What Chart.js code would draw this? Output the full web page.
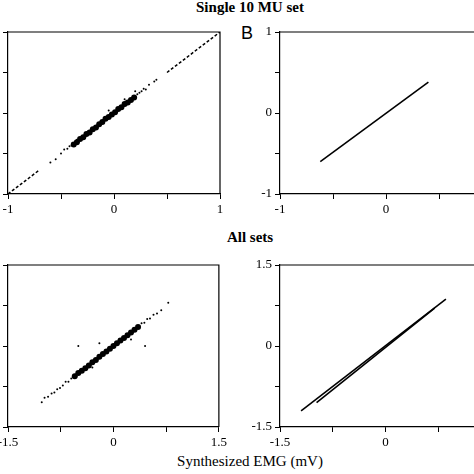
<!DOCTYPE html>
<html><head><meta charset="utf-8">
<script src="https://cdn.jsdelivr.net/npm/chart.js@4"></script>
<style>
body{margin:0;width:474px;height:474px;overflow:hidden;position:relative;background:#fff;font-family:"Liberation Serif",serif}
canvas{position:absolute}
.t{position:absolute;width:500px;text-align:center;left:0;font-weight:bold;font-size:15px}
</style></head><body>
<div class="t" style="top:-1px">Single 10 MU set</div>
<div class="t" style="top:229px">All sets</div>
<div class="t" style="top:453px;font-weight:normal;font-size:15px">Synthesized EMG (mV)</div>
<div style="position:absolute;left:241px;top:23px;font-family:'Liberation Sans',sans-serif;font-size:18px">B</div>
<div style="position:absolute;left:-40px;top:20px;width:270px;height:204px"><canvas id="c1"></canvas></div>
<div style="position:absolute;left:232px;top:20px;width:270px;height:204px"><canvas id="c2"></canvas></div>
<div style="position:absolute;left:-40px;top:253px;width:270px;height:204px"><canvas id="c3"></canvas></div>
<div style="position:absolute;left:232px;top:253px;width:270px;height:204px"><canvas id="c4"></canvas></div>
<script>
const ticksA=[-1,-0.5,0,0.5,1], labelsA=['-1','','0','','1'];
const ticksB=[-1.5,-0.75,0,0.75,1.5], labelsB=['-1.5','','0','','1.5'];
const scatterA=[[-0.6,-0.61],[-0.55,-0.57],[-0.5,-0.5],[-0.47,-0.45],[-0.44,-0.44],[-0.42,-0.41],[-0.4,-0.4],[-0.39,-0.37],[-0.37,-0.38],[-0.36,-0.35],[-0.35,-0.33],[-0.33,-0.34],[-0.32,-0.31],[-0.3,-0.3],[-0.29,-0.28],[-0.28,-0.29],[-0.27,-0.26],[-0.25,-0.25],[-0.24,-0.23],[-0.22,-0.23],[-0.21,-0.2],[-0.2,-0.19],[-0.19,-0.2],[-0.17,-0.16],[-0.16,-0.17],[-0.15,-0.14],[-0.13,-0.13],[-0.12,-0.11],[-0.11,-0.12],[-0.1,-0.09],[-0.08,-0.08],[-0.07,-0.06],[-0.06,-0.07],[-0.05,-0.04],[-0.03,-0.03],[-0.02,-0.01],[-0.01,-0.02],[0,0],[0.01,0.02],[0.02,0.01],[0.04,0.04],[0.05,0.06],[0.06,0.05],[0.08,0.08],[0.09,0.1],[0.1,0.09],[0.12,0.12],[0.13,0.14],[0.15,0.15],[0.16,0.17],[0.18,0.18],[0.19,0.2],[0.2,0.19],[0.22,0.23],[0.24,0.25],[0.26,0.27],[0.28,0.3],[0.3,0.29],[0.33,0.35],[0.38,0.39],[0.4,0.41],[-0.05,0.03],[0.1,0.17],[0.2,0.27]];
const coreA=[[-0.38,-0.39],[-0.35,-0.36],[-0.32,-0.32],[-0.29,-0.3],[-0.26,-0.26],[-0.23,-0.24],[-0.2,-0.2],[-0.17,-0.18],[-0.14,-0.14],[-0.11,-0.11],[-0.08,-0.07],[-0.05,-0.05],[-0.02,-0.02],[0.01,0.01],[0.04,0.05],[0.07,0.07],[0.1,0.11],[0.13,0.13],[0.16,0.16],[0.19,0.19]];
const lineA=[[-0.62,-0.6],[0.4,0.38]];
const scatterB=[[-1.02,-1.04],[-0.98,-0.96],[-0.93,-0.94],[-0.88,-0.88],[-0.84,-0.86],[-0.8,-0.8],[-0.76,-0.78],[-0.72,-0.73],[-0.68,-0.66],[-0.64,-0.66],[-0.6,-0.6],[-0.57,-0.58],[-0.54,-0.53],[-0.5,-0.52],[-0.47,-0.46],[-0.44,-0.45],[-0.41,-0.4],[-0.38,-0.4],[-0.35,-0.34],[-0.32,-0.34],[-0.3,-0.28],[-0.27,-0.29],[-0.24,-0.23],[-0.21,-0.23],[-0.18,-0.16],[-0.15,-0.17],[-0.12,-0.11],[-0.1,-0.12],[-0.07,-0.06],[-0.04,-0.06],[-0.02,0],[0,-0.02],[0.03,0.04],[0.05,0.03],[0.08,0.09],[0.1,0.08],[0.13,0.14],[0.15,0.13],[0.18,0.19],[0.2,0.18],[0.23,0.24],[0.26,0.24],[0.28,0.3],[0.31,0.3],[0.34,0.35],[0.37,0.36],[0.4,0.42],[0.44,0.43],[0.48,0.5],[0.52,0.51],[0.57,0.58],[0.62,0.6],[0.68,0.66],[0.78,0.8],[-0.5,0],[-0.2,0.05],[0.45,0],[-0.3,-0.4],[0.25,0.12]];
const coreB=[[-0.55,-0.56],[-0.5,-0.5],[-0.45,-0.46],[-0.4,-0.41],[-0.35,-0.36],[-0.3,-0.3],[-0.25,-0.26],[-0.2,-0.2],[-0.15,-0.15],[-0.1,-0.1],[-0.05,-0.05],[0,0],[0.05,0.05],[0.1,0.1],[0.15,0.15],[0.2,0.2],[0.25,0.25],[0.3,0.3],[0.35,0.35]];
const linesB=[[[-1.2,-1.2],[0.86,0.87]],[[-0.98,-1.05],[0.7,0.7]]];
const dashA=[[[-1,-1],[-0.7,-0.7]],[[0.5,0.5],[1,1]]];

function xy(a){return a.map(p=>({x:p[0],y:p[1]}));}
function mk(id,min,max,ticks,labels,datasets){
  const sc=(axis)=>({type:'linear',min,max,
    afterBuildTicks:s=>{s.ticks=ticks.map(v=>({value:v}));},
    afterFit:s=>{if(axis==='y')s.width=48;else s.height=30;},
    ticks:{autoSkip:false,color:'#000',font:{family:'Liberation Serif',size:13},padding:3,
      callback:(v)=>{const i=ticks.indexOf(v);return i>=0?labels[i]:'';}},
    grid:{drawOnChartArea:false,drawTicks:true,tickLength:5,color:'#000',lineWidth:1},
    border:{color:'#000',width:1.2}});
  new Chart(document.getElementById(id),{type:'scatter',data:{datasets},
    options:{responsive:true,maintainAspectRatio:false,animation:false,
      layout:{padding:{top:12,right:10,left:0,bottom:0}},
      plugins:{legend:{display:false},tooltip:{enabled:false}},
      scales:{x:sc('x'),y:sc('y')}},
    plugins:[{id:'frame',afterDatasetsDraw(c){const a=c.chartArea,g=c.ctx;g.save();g.strokeStyle='#000';g.lineWidth=1.2;
      g.beginPath();g.moveTo(a.left,a.top);g.lineTo(a.right,a.top);g.lineTo(a.right,a.bottom);g.stroke();g.restore();}}]});
}
const dots=(a,r)=>({data:xy(a),pointRadius:r,pointBackgroundColor:'#000',pointBorderWidth:0,showLine:false});
const ln=(a,extra)=>Object.assign({data:xy(a),showLine:true,pointRadius:0,borderColor:'#000',borderWidth:1.6},extra||{});
mk('c1',-1,1,ticksA,labelsA,[dots(scatterA,1),dots(coreA,3),...dashA.map(d=>ln(d,{borderDash:[3,2],borderWidth:1.5}))]);
mk('c2',-1,1,ticksA,labelsA,[ln(lineA)]);
mk('c3',-1.5,1.5,ticksB,labelsB,[dots(scatterB,1),dots(coreB,3)]);
mk('c4',-1.5,1.5,ticksB,labelsB,linesB.map(l=>ln(l)));
</script></body></html>
